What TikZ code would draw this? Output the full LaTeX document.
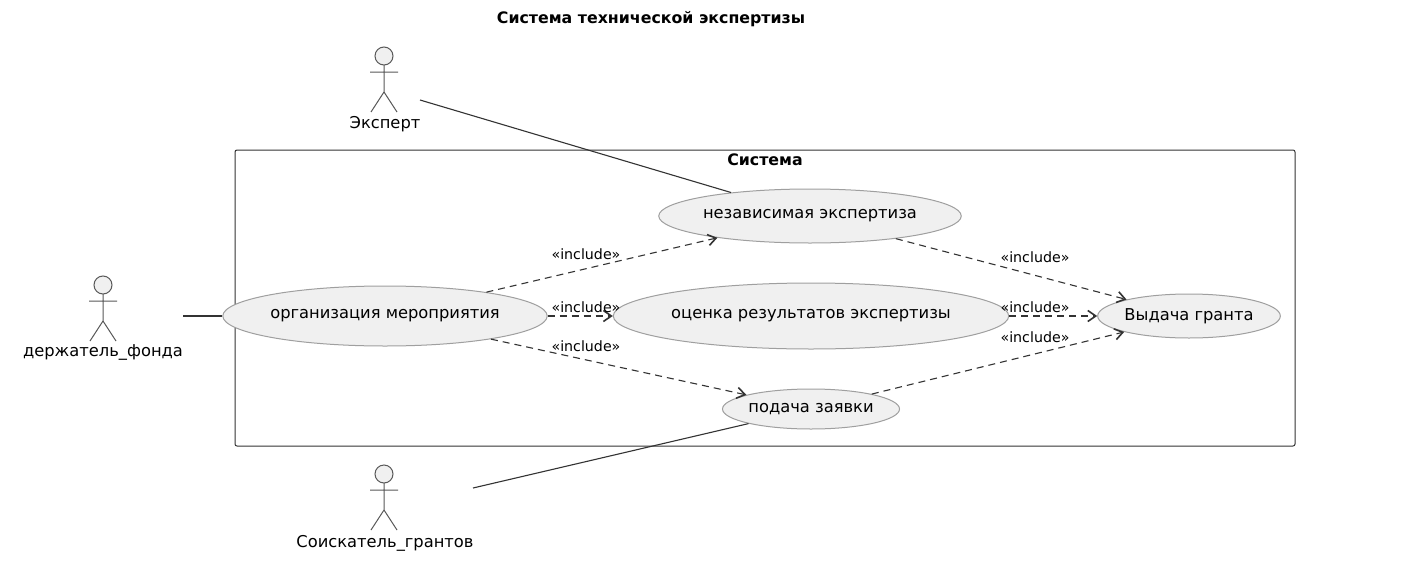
\documentclass[tikz,border=0pt]{standalone}
\usepackage{fontspec}
\setmainfont{DejaVu Sans}
\usetikzlibrary{shapes.geometric,arrows.meta}
\begin{document}
\begin{tikzpicture}[x=1pt,y=-1pt,line width=1pt,
  uc/.style={ellipse,draw=gray!75,fill=gray!12,inner sep=0pt,font=\fontsize{16.3}{18}\selectfont},
  inc/.style={draw=black!80,line width=1.1pt,dash pattern=on 7pt off 5pt,-{Straight Barb[length=8pt,width=11pt,line width=1.6pt]}},
  lbl/.style={font=\fontsize{14.2}{16}\selectfont},
  ln/.style={draw=black!80,line width=1.1pt},
  actor/.pic={\draw[gray!70!black,fill=gray!12] (0,0) circle (9);
    \draw[gray!70!black] (0,9)--(0,36) (-14,16)--(14,16) (-13,56)--(0,36)--(13,56);}]
\useasboundingbox (0,0) rectangle (1415,562);
\fill[white] (0,0) rectangle (1400,555);
\node[font=\bfseries\fontsize{15.8}{18}\selectfont] (title) at (651,19) {Система технической экспертизы};
\draw[black!80,rounded corners=2pt] (235,150) rectangle (1295,446);
\node[font=\bfseries\fontsize{15.8}{18}\selectfont] (sys) at (765,160) {Система};
\pic at (384,56) {actor};
\node[font=\fontsize{16.3}{18}\selectfont] (exp) at (385,124) {Эксперт};
\pic at (103,285) {actor};
\node[font=\fontsize{16.3}{18}\selectfont] (hold) at (103,352) {держатель\_фонда};
\pic at (384,474) {actor};
\node[font=\fontsize{16.3}{18}\selectfont] (app) at (385,543) {Соискатель\_грантов};
\coordinate (expE) at (420,100);
\coordinate (holdE) at (183,316);
\coordinate (appE) at (473,488);
\node[uc,minimum width=250,minimum height=54] (nez) at (810,216) {независимая экспертиза};
\node[uc,minimum width=314,minimum height=66] (oce) at (811,316) {оценка результатов экспертизы};
\node[uc,minimum width=170,minimum height=40] (pod) at (811,409) {подача заявки};
\node[uc,minimum width=264,minimum height=60] (org) at (385,316) {организация мероприятия};
\node[uc,minimum width=176,minimum height=44] (vyd) at (1189,316) {Выдача гранта};
\draw[ln] (expE) -- (nez);
\draw[ln] (holdE) -- (org);
\draw[ln] (appE) -- (pod);
\draw[inc] (org) -- (nez);
\draw[inc] (org) -- (oce);
\draw[inc] (org) -- (pod);
\draw[inc] (nez) -- (vyd);
\draw[inc] (oce) -- (vyd);
\draw[inc] (pod) -- (vyd);
\node[lbl] (l1) at (586,254) {«include»};
\node[lbl] (l2) at (586,307) {«include»};
\node[lbl] (l3) at (586,346) {«include»};
\node[lbl] (l4) at (1035,257) {«include»};
\node[lbl] (l5) at (1035,307) {«include»};
\node[lbl] (l6) at (1035,337) {«include»};
\end{tikzpicture}
\end{document}
